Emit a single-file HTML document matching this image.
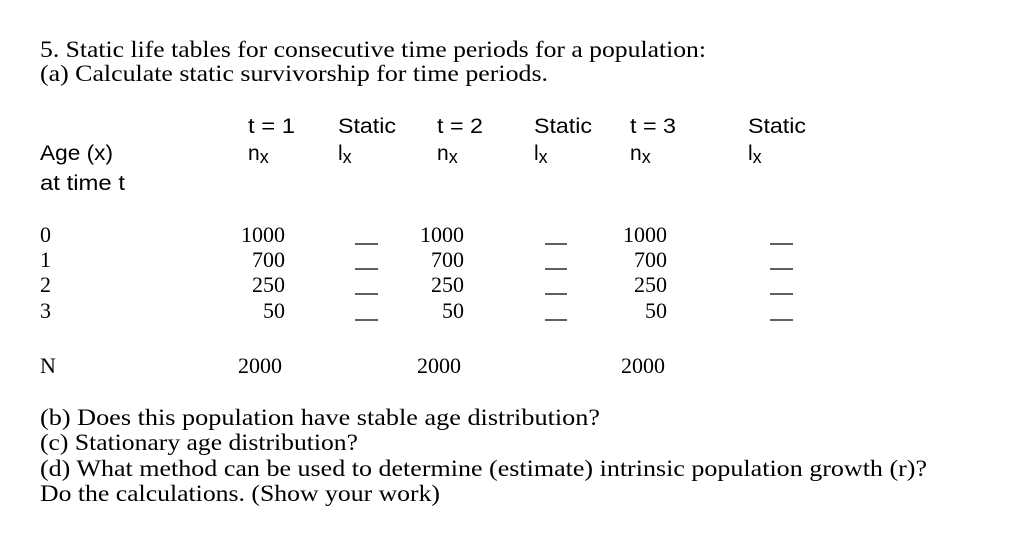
<!DOCTYPE html>
<html><head><meta charset="utf-8"><style>
html,body{margin:0;padding:0;background:#fff;}
svg{display:block;}
.s{font-family:"Liberation Serif",serif;font-size:23px;fill:#000;}
.n{font-family:"Liberation Serif",serif;font-size:22px;fill:#000;}
.a{font-family:"Liberation Sans",sans-serif;font-size:21px;fill:#000;}
</style></head><body>
<svg width="1024" height="543" viewBox="0 0 1024 543" xmlns="http://www.w3.org/2000/svg">
<text class="s" x="40" y="57" textLength="666" lengthAdjust="spacingAndGlyphs">5. Static life tables for consecutive time periods for a population:</text>
<text class="s" x="40" y="81" textLength="508" lengthAdjust="spacingAndGlyphs">(a) Calculate static survivorship for time periods.</text>

<text class="a" x="248" y="133" textLength="47" lengthAdjust="spacingAndGlyphs">t = 1</text>
<text class="a" x="338" y="133" textLength="58" lengthAdjust="spacingAndGlyphs">Static</text>
<text class="a" x="437" y="133" textLength="46" lengthAdjust="spacingAndGlyphs">t = 2</text>
<text class="a" x="534" y="133" textLength="58" lengthAdjust="spacingAndGlyphs">Static</text>
<text class="a" x="630" y="133" textLength="46" lengthAdjust="spacingAndGlyphs">t = 3</text>
<text class="a" x="748" y="133" textLength="58" lengthAdjust="spacingAndGlyphs">Static</text>

<text class="a" x="40" y="160" textLength="73" lengthAdjust="spacingAndGlyphs">Age (x)</text>
<text class="a" x="248" y="160">n<tspan font-size="18" dy="3">x</tspan></text>
<text class="a" x="338" y="160">l<tspan font-size="18" dy="3">x</tspan></text>
<text class="a" x="437" y="160">n<tspan font-size="18" dy="3">x</tspan></text>
<text class="a" x="534" y="160">l<tspan font-size="18" dy="3">x</tspan></text>
<text class="a" x="630" y="160">n<tspan font-size="18" dy="3">x</tspan></text>
<text class="a" x="748" y="160">l<tspan font-size="18" dy="3">x</tspan></text>
<text class="a" x="40" y="190" textLength="85" lengthAdjust="spacingAndGlyphs">at time t</text>

<g class="n">
<text x="40" y="242">0</text><text x="40" y="267">1</text><text x="40" y="292">2</text><text x="40" y="318">3</text>
<g text-anchor="end">
<text x="285" y="242">1000</text><text x="285" y="267">700</text><text x="285" y="292">250</text><text x="285" y="318">50</text>
<text x="464" y="242">1000</text><text x="464" y="267">700</text><text x="464" y="292">250</text><text x="464" y="318">50</text>
<text x="667" y="242">1000</text><text x="667" y="267">700</text><text x="667" y="292">250</text><text x="667" y="318">50</text>
</g>
<text x="40" y="373">N</text>
<text x="238" y="373">2000</text><text x="417" y="373">2000</text><text x="621" y="373">2000</text>
</g>
<g stroke="#000" stroke-width="1.3">
<line x1="355" x2="378" y1="244" y2="244"/><line x1="355" x2="378" y1="269" y2="269"/><line x1="355" x2="378" y1="294" y2="294"/><line x1="355" x2="378" y1="320" y2="320"/>
<line x1="545" x2="567" y1="244" y2="244"/><line x1="545" x2="567" y1="269" y2="269"/><line x1="545" x2="567" y1="294" y2="294"/><line x1="545" x2="567" y1="320" y2="320"/>
<line x1="770" x2="793" y1="244" y2="244"/><line x1="770" x2="793" y1="269" y2="269"/><line x1="770" x2="793" y1="294" y2="294"/><line x1="770" x2="793" y1="320" y2="320"/>
</g>

<text class="s" x="40" y="425" textLength="560" lengthAdjust="spacingAndGlyphs">(b) Does this  population have stable age distribution?</text>
<text class="s" x="40" y="450" textLength="318" lengthAdjust="spacingAndGlyphs">(c) Stationary age distribution?</text>
<text class="s" x="40" y="476" textLength="887" lengthAdjust="spacingAndGlyphs">(d) What method can be used to determine (estimate) intrinsic population growth (r)?</text>
<text class="s" x="40" y="501" textLength="400" lengthAdjust="spacingAndGlyphs">Do the calculations. (Show your work)</text>
</svg>
</body></html>
